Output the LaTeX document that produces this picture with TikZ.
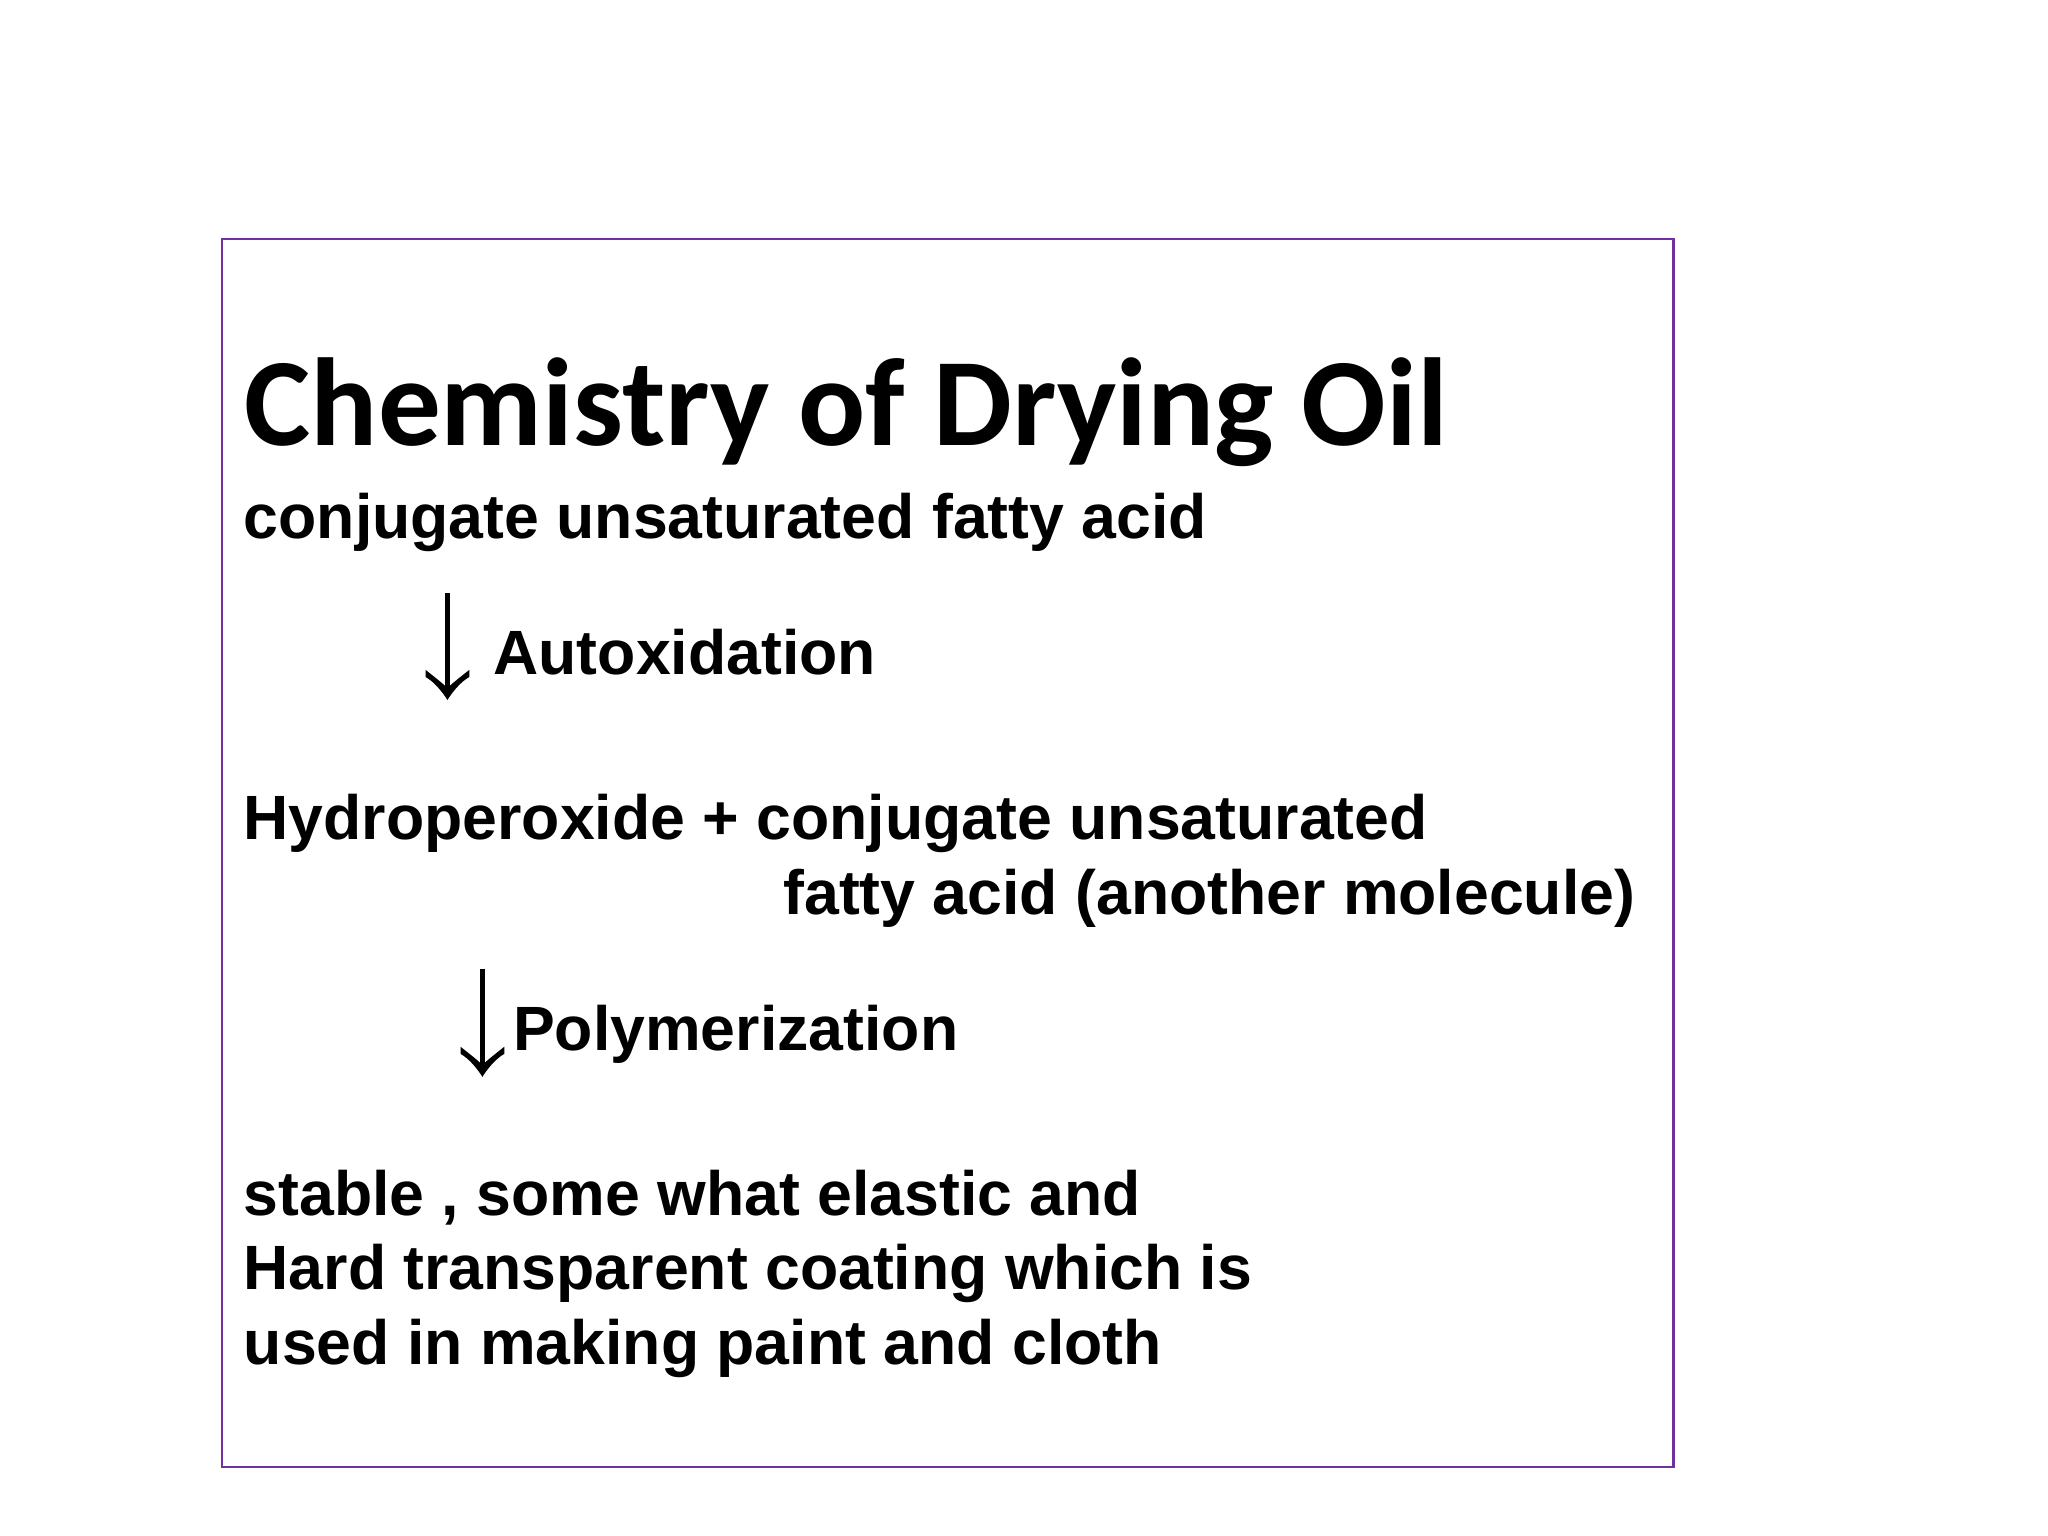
\documentclass[tikz,border=0pt]{standalone}
\usepackage{fontspec}
\setmainfont{Liberation Sans}
\newfontfamily\titlefont{Carlito}
\definecolor{boxpurple}{RGB}{112,48,160}
\tikzset{
  body/.style={anchor=base west, inner sep=0pt, font=\fontsize{22}{26}\selectfont\bfseries},
  ttl/.style={anchor=base west, inner sep=0pt, font=\fontsize{44}{52}\selectfont\titlefont\bfseries},
  frame/.style={draw=boxpurple, line width=0.8pt},
  shaft/.style={line width=1.7pt},
  headtip/.pic={
    \fill (0,0) .. controls (-1.6,2.6) and (-4.6,6.4) .. (-7.7,8.1)
      -- (-7.7,10.6) .. controls (-5.2,8.6) and (-2.6,6.6) .. (-0.85,5.0)
      -- (0.85,5.0) .. controls (2.6,6.6) and (5.2,8.6) .. (7.7,10.6)
      -- (7.7,8.1) .. controls (4.6,6.4) and (1.6,2.6) .. (0,0) -- cycle;
  }
}
\begin{document}
\begin{tikzpicture}[x=1pt,y=1pt]
\useasboundingbox (0,0) rectangle (720,540);
\fill[white] (0,0) rectangle (720,540);
\draw[frame] (78.1,24.3) rectangle (588.3,456.0);

\node[ttl] (title) at (85.8,383.5) {Chemistry of Drying Oil};
\node[body] (l1) at (85.5,350.8) {conjugate unsaturated fatty acid};

\coordinate (a1top) at (157.3,331.6);
\coordinate (a1tip) at (157.3,293.9);
\draw[shaft] (a1top) -- ([yshift=4pt]a1tip);
\pic at (a1tip) {headtip};
\node[body] (auto) at (173.3,302.7) {Autoxidation};

\node[body] (l2) at (85.5,245.0) {Hydroperoxide + conjugate unsaturated};
\node[body] (l3) at (275.2,218.6) {fatty acid (another molecule)};

\coordinate (a2top) at (169.6,199.5);
\coordinate (a2tip) at (169.6,161.4);
\draw[shaft] (a2top) -- ([yshift=4pt]a2tip);
\pic at (a2tip) {headtip};
\node[body] (poly) at (180.2,170.8) {Polymerization};

\node[body] (r1) at (85.5,112.8) {stable , some what elastic and};
\node[body] (r2) at (85.5,86.7) {Hard transparent coating which is};
\node[body] (r3) at (85.5,60.3) {used in making paint and cloth};
\end{tikzpicture}
\end{document}
